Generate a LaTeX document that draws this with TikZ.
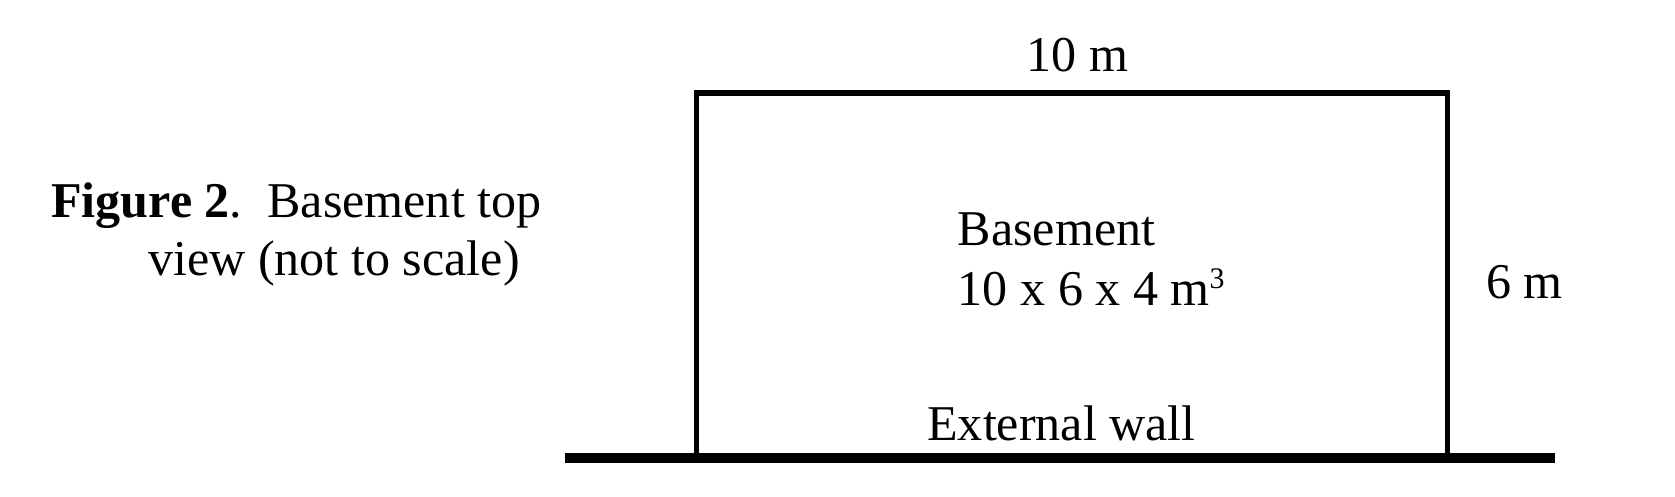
\documentclass[tikz,border=0pt]{standalone}
\usepackage{fontspec}
\setmainfont{Liberation Serif}
\usepackage{tikz}

\begin{document}
\begin{tikzpicture}[
    lbl/.style={inner sep=0pt, font=\fontsize{28.5}{34}\selectfont},
    wallline/.style={line width=2.85pt},
    groundline/.style={line width=5.7pt}
  ]
    \useasboundingbox (0,0) rectangle (33.5,9.92);

    \node at (1.02,5.58) [lbl, anchor=base west] (cap1) {\textbf{Figure 2}.\ \ Basement top};
    \node at (2.96,4.42) [lbl, anchor=base west] (cap2) {view (not to scale)};

    \draw[wallline] (13.93,0.76) -- (13.93,8.06) -- (28.94,8.06) -- (28.94,0.76);
    \draw[groundline] (11.30,0.76) -- (31.10,0.76);

    \node at (21.55,8.48) [lbl, anchor=base] (topdim) {10 m};
    \node at (29.72,3.96) [lbl, anchor=base west] (sidedim) {6 m};
    \node at (19.15,5.02) [lbl, anchor=base west] (room) {Basement};
    \node at (19.15,3.82) [lbl, anchor=base west] (vol) {10 x 6 x 4 m\raisebox{9.5pt}{\fontsize{17}{17}\selectfont 3}};
    \node at (18.54,1.12) [lbl, anchor=base west] (wall) {External wall};
\end{tikzpicture}
\end{document}
